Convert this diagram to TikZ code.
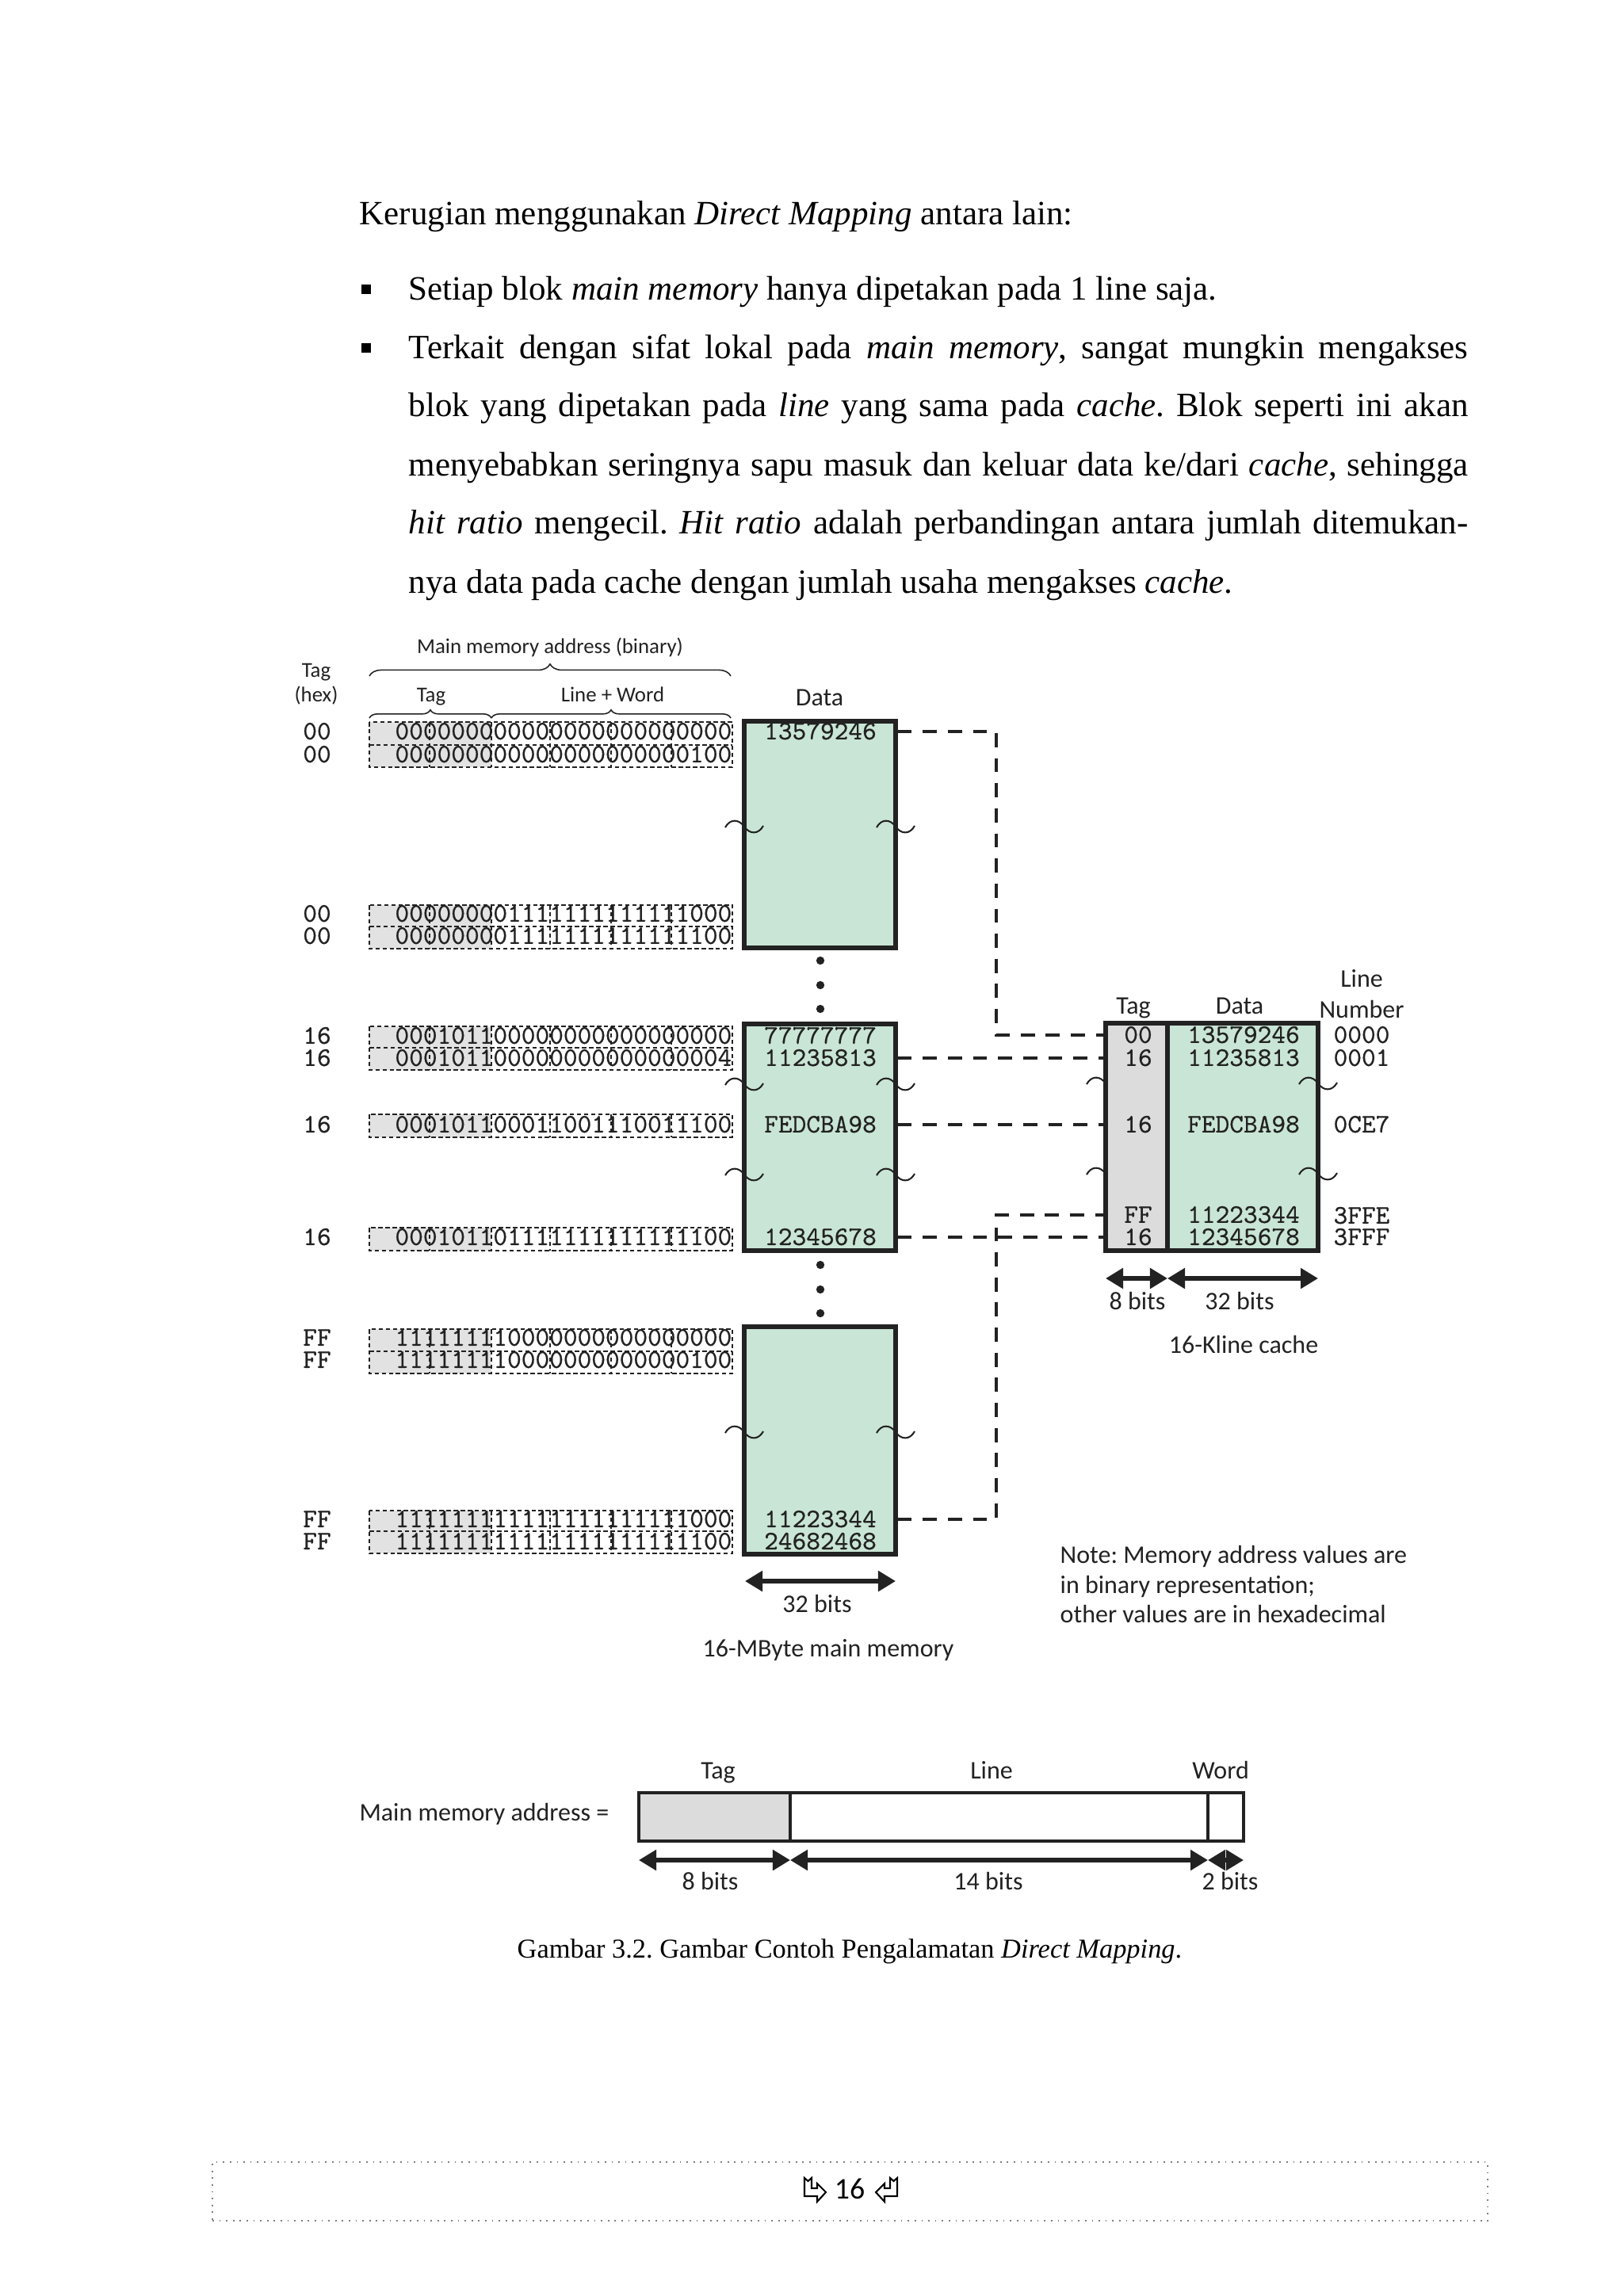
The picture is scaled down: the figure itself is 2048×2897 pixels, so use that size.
\documentclass[tikz,border=0pt]{standalone}
\usepackage{fontspec}
\setmainfont{Liberation Serif}
\newfontfamily\labfont{Carlito}
\newfontfamily\bitfont[FakeBold=0.5]{Latin Modern Mono}
\usetikzlibrary{arrows.meta,decorations.pathreplacing,calc}
\definecolor{memgreen}{RGB}{201,229,213}
\definecolor{taggray}{RGB}{220,220,220}
\definecolor{rowgray}{RGB}{226,226,226}
\definecolor{ink}{RGB}{34,34,34}
\def\upx{0.290662pt}
\frenchspacing
\newcommand\tildemark[2]{\draw[tildest] (#1-24,#2+1) .. controls (#1-18,#2-10) and (#1-7,#2-10) .. (#1,#2) .. controls (#1+7,#2+10) and (#1+18,#2+10) .. (#1+24,#2-1);}
\tikzset{
  body/.style={font=\fontsize{12.5}{14}\selectfont, inner sep=0, anchor=base west},
  lab/.style={font=\labfont\fontsize{9.3}{11}\selectfont, inner sep=0, anchor=mid, text=ink},
  labsm/.style={font=\labfont\fontsize{7.8}{9}\selectfont, inner sep=0, anchor=mid, text=ink},
  bits/.style={font=\bitfont\fontsize{9.8}{11}\selectfont, inner sep=0, anchor=mid, text=ink, text height=5.9pt, text depth=0pt},
  membox/.style={draw=ink, line width=1.5pt, fill=memgreen, inner sep=0, minimum width=191*\upx, minimum height=286*\upx},
  cachebox/.style={draw=ink, line width=1.5pt, inner sep=0, minimum height=287*\upx},
  afbox/.style={draw=ink, line width=1.4pt, inner sep=0, minimum height=61*\upx, fill=white},
  rowdash/.style={draw=ink, line width=0.45pt, dash pattern=on 1.6pt off 1pt},
  bracest/.style={draw=ink, line width=0.45pt, decorate},
  tildest/.style={draw=ink, line width=0.6pt},
  conn/.style={draw=ink, line width=1.3pt, dash pattern=on 5.2pt off 4pt},
  bitarrow/.style={draw=ink, line width=1.5pt, {Triangle[length=6.4pt,width=7.3pt]}-{Triangle[length=6.4pt,width=7.3pt]}},
  dotst/.style={circle, fill=ink, inner sep=0, minimum size=3pt},
  bulletsq/.style={fill=black, inner sep=0, minimum size=3.5pt},
}
\begin{document}
\begin{tikzpicture}[x=0.290662pt,y=-0.290662pt]
\useasboundingbox (0,0) rectangle (2048,2897);
\fill[white] (0,0) rectangle (2048,2897);

% ---------- body text ----------
\node[body] (t1) at (453,283) {Kerugian menggunakan \textit{Direct Mapping} antara lain:};
\node[bulletsq] (b1) at (462,365) {};
\node[body] (t2) at (515,378) {Setiap blok \textit{main memory} hanya dipetakan pada 1 line saja.};
\node[bulletsq] (b2) at (462,439) {};
\node[body] (t3) at (515,452) {\makebox[388.6pt][s]{Terkait dengan sifat lokal pada \textit{main memory}, sangat mungkin mengakses}};
\node[body] (t4) at (515,525) {\makebox[388.6pt][s]{blok yang dipetakan pada \textit{line} yang sama pada \textit{cache}. Blok seperti ini akan}};
\node[body] (t5) at (515,600) {\makebox[388.6pt][s]{menyebabkan seringnya sapu masuk dan keluar data ke/dari \textit{cache}, sehingga}};
\node[body] (t6) at (515,673) {\makebox[388.6pt][s]{\textit{hit ratio} mengecil. \textit{Hit ratio} adalah perbandingan antara jumlah ditemukan-}};
\node[body] (t7) at (515,748) {nya data pada cache dengan jumlah usaha mengakses \textit{cache}.};

% ---------- headers ----------
\node[labsm] (hdrMain) at (694,817) {Main memory address (binary)};
\node[labsm] (hdrTag1) at (399,847) {Tag};
\node[labsm] (hdrHex) at (399,878) {(hex)};
\node[labsm] (hdrTag2) at (544,878) {Tag};
\node[labsm] (hdrLW) at (773,878) {Line + Word};
\node[lab] (hdrData) at (1034,883) {Data};
\draw[bracest, decoration={brace, amplitude=4.4pt}] (466,853) -- (922,853);
\draw[bracest, decoration={brace, amplitude=3pt}] (466,906) -- (620,906);
\draw[bracest, decoration={brace, amplitude=3pt}] (620,906) -- (922,906);

% ---------- address rows ----------
\foreach \tp/\md/\bt in {911/940/968, 1142/1169/1197, 1295/1322/1350, 1677/1705/1733, 1906/1932/1960}{
  \fill[rowgray] (466,\tp) rectangle (620,\bt);
  \draw[rowdash] (466,\tp) rectangle (924,\bt);
  \draw[rowdash] (466,\md) -- (924,\md);
  \foreach \sx in {542,620,694,771,847} \draw[rowdash] (\sx,\tp) -- (\sx,\bt);
}
\foreach \tp/\bt in {1406/1435, 1549/1578}{
  \fill[rowgray] (466,\tp) rectangle (620,\bt);
  \draw[rowdash] (466,\tp) rectangle (924,\bt);
  \foreach \sx in {542,620,694,771,847} \draw[rowdash] (\sx,\tp) -- (\sx,\bt);
}
\node[bits] (h1) at (400,925) {00};
\node[bits] (h2) at (400,954) {00};
\node[bits] (h3) at (400,1155) {00};
\node[bits] (h4) at (400,1183) {00};
\node[bits] (h5) at (400,1309) {16};
\node[bits] (h6) at (400,1337) {16};
\node[bits] (h7) at (400,1421) {16};
\node[bits] (h8) at (400,1563) {16};
\node[bits] (h9) at (400,1690) {FF};
\node[bits] (h10) at (400,1718) {FF};
\node[bits] (h11) at (400,1919) {FF};
\node[bits] (h12) at (400,1947) {FF};
\node[bits, anchor=mid east] (a1) at (924,925) {000000000000000000000000};
\node[bits, anchor=mid east] (a2) at (924,954) {000000000000000000000100};
\node[bits, anchor=mid east] (a3) at (924,1155) {000000001111111111111000};
\node[bits, anchor=mid east] (a4) at (924,1183) {000000001111111111111100};
\node[bits, anchor=mid east] (a5) at (924,1309) {000101100000000000000000};
\node[bits, anchor=mid east] (a6) at (924,1337) {000101100000000000000004};
\node[bits, anchor=mid east] (a7) at (924,1421) {000101100011001110011100};
\node[bits, anchor=mid east] (a8) at (924,1563) {000101101111111111111100};
\node[bits, anchor=mid east] (a9) at (924,1690) {111111110000000000000000};
\node[bits, anchor=mid east] (a10) at (924,1718) {111111110000000000000100};
\node[bits, anchor=mid east] (a11) at (924,1919) {111111111111111111111000};
\node[bits, anchor=mid east] (a12) at (924,1947) {111111111111111111111100};

% ---------- main memory ----------
\node[membox] (mem1) at (1034.5,1053) {};
\node[membox] (mem2) at (1034.5,1435) {};
\node[membox, minimum height=287*\upx] (mem3) at (1034.5,1817.5) {};
\node[bits] (v1) at (1035,925) {13579246};
\node[bits] (v2) at (1035,1309) {77777777};
\node[bits] (v3) at (1035,1337) {11235813};
\node[bits] (v4) at (1035,1421) {FEDCBA98};
\node[bits] (v5) at (1035,1563) {12345678};
\node[bits] (v6) at (1035,1919) {11223344};
\node[bits] (v7) at (1035,1947) {24682468};
\foreach \ty in {1043,1368,1482,1807}{\tildemark{939}{\ty}\tildemark{1130}{\ty}}
\node[dotst] (d1) at (1035,1212) {};
\node[dotst] (d2) at (1035,1243) {};
\node[dotst] (d3) at (1035,1273) {};
\node[dotst] (d4) at (1035,1596) {};
\node[dotst] (d5) at (1035,1627) {};
\node[dotst] (d6) at (1035,1657) {};

% ---------- cache ----------
\foreach \ty in {1367,1481}{\tildemark{1395}{\ty}}
\node[cachebox, fill=taggray, minimum width=78*\upx] (ctag) at (1434,1434.5) {};
\node[cachebox, fill=memgreen, minimum width=190*\upx] (cdat) at (1568,1434.5) {};
\foreach \ty in {1367,1481}{\tildemark{1663}{\ty}}
\node[lab] (chTag) at (1430,1272) {Tag};
\node[lab] (chData) at (1564,1272) {Data};
\node[lab] (chLine) at (1718,1238) {Line};
\node[lab] (chNum) at (1718,1277) {Number};
\node[bits] (ct1) at (1436,1308) {00};
\node[bits] (ct2) at (1436,1337) {16};
\node[bits] (ct3) at (1436,1421) {16};
\node[bits] (ct4) at (1436,1535) {FF};
\node[bits] (ct5) at (1436,1563) {16};
\node[bits] (cd1) at (1569,1308) {13579246};
\node[bits] (cd2) at (1569,1337) {11235813};
\node[bits] (cd3) at (1569,1421) {FEDCBA98};
\node[bits] (cd4) at (1569,1535) {11223344};
\node[bits] (cd5) at (1569,1563) {12345678};
\node[bits] (cl1) at (1718,1308) {0000};
\node[bits] (cl2) at (1718,1337) {0001};
\node[bits] (cl3) at (1718,1421) {0CE7};
\node[bits] (cl4) at (1718,1536) {3FFE};
\node[bits] (cl5) at (1718,1563) {3FFF};

% ---------- connectors ----------
\coordinate (vx) at (1257,0);
\draw[conn] (mem1.east |- v1) -- (vx |- v1) -- (vx |- ct1) -- (ctag.west |- ct1);
\draw[conn] (mem2.east |- v3) -- (ctag.west |- ct2);
\draw[conn] (mem2.east |- v4) -- (ctag.west |- ct3);
\draw[conn] (mem2.east |- v5) -- (ctag.west |- ct5);
\draw[conn] (mem3.east |- v6) -- (vx |- v6) -- (vx |- ct4) -- (ctag.west |- ct4);

% ---------- widths ----------
\coordinate (cbA) at (1395,1613);
\coordinate (cbB) at (1473,1613);
\coordinate (cbC) at (1663,1613);
\draw[bitarrow] (cbA) -- (cbB);
\draw[bitarrow] (cbB) -- (cbC);
\node[lab] (cw1) at (1435,1645) {8 bits};
\node[lab] (cw2) at (1564,1645) {32 bits};
\node[lab] (cname) at (1569,1700) {16-Kline cache};
\coordinate (mmA) at (940,1995);
\coordinate (mmB) at (1130,1995);
\draw[bitarrow] (mmA) -- (mmB);
\node[lab] (mw) at (1031,2027) {32 bits};
\node[lab] (mname) at (1045,2083) {16-MByte main memory};
\node[lab, anchor=mid west] (n1) at (1337,1965) {Note: Memory address values are};
\node[lab, anchor=mid west] (n2) at (1337,2003) {in binary representation;};
\node[lab, anchor=mid west] (n3) at (1337,2040) {other values are in hexadecimal};

% ---------- address format ----------
\node[afbox, fill=taggray, minimum width=191*\upx] (afTag) at (901.5,2292.5) {};
\node[afbox, minimum width=527*\upx] (afLine) at (1260.5,2292.5) {};
\node[afbox, minimum width=45*\upx] (afWord) at (1546.5,2292.5) {};
\node[lab] (fTag) at (906,2237) {Tag};
\node[lab] (fLine) at (1251,2237) {Line};
\node[lab] (fWord) at (1540,2237) {Word};
\node[lab, anchor=mid east] (fMain) at (769,2290) {Main memory address =};
\coordinate (fa) at (806,2347);
\coordinate (fb) at (997,2347);
\coordinate (fc) at (1524,2347);
\coordinate (fd) at (1569,2347);
\draw[bitarrow] (fa) -- (fb);
\draw[bitarrow] (fb) -- (fc);
\draw[bitarrow] (fc) -- (fd);
\node[lab] (fw1) at (896,2377) {8 bits};
\node[lab] (fw2) at (1247,2377) {14 bits};
\node[lab] (fw3) at (1552,2377) {2 bits};

% ---------- caption ----------
\node[font=\fontsize{10}{12}\selectfont, anchor=base, inner sep=0] (cap) at (1072,2470) {Gambar 3.2. Gambar Contoh Pengalamatan \textit{Direct Mapping}.};

% ---------- footer ----------
\node[draw=gray, dotted, line width=0.5pt, inner sep=0, minimum width=1609*\upx, minimum height=74*\upx] (foot) at (1072.5,2765) {};
\node[font=\labfont\fontsize{11}{13}\selectfont, anchor=mid, inner sep=0] (pg) at (1072,2767) {16};
\draw[line width=0.6pt, line join=miter] (1015,2748) -- (1019.5,2752) -- (1024,2748) -- (1024,2761) -- (1031,2761) -- (1031,2755) -- (1042,2766) -- (1031,2778) -- (1031,2771) -- (1015,2771) -- cycle;
\draw[line width=0.6pt, line join=miter] (1132,2748) -- (1127.5,2752) -- (1123,2748) -- (1123,2761) -- (1116,2761) -- (1116,2755) -- (1105,2766) -- (1116,2778) -- (1116,2771) -- (1132,2771) -- cycle;
\end{tikzpicture}
\end{document}
